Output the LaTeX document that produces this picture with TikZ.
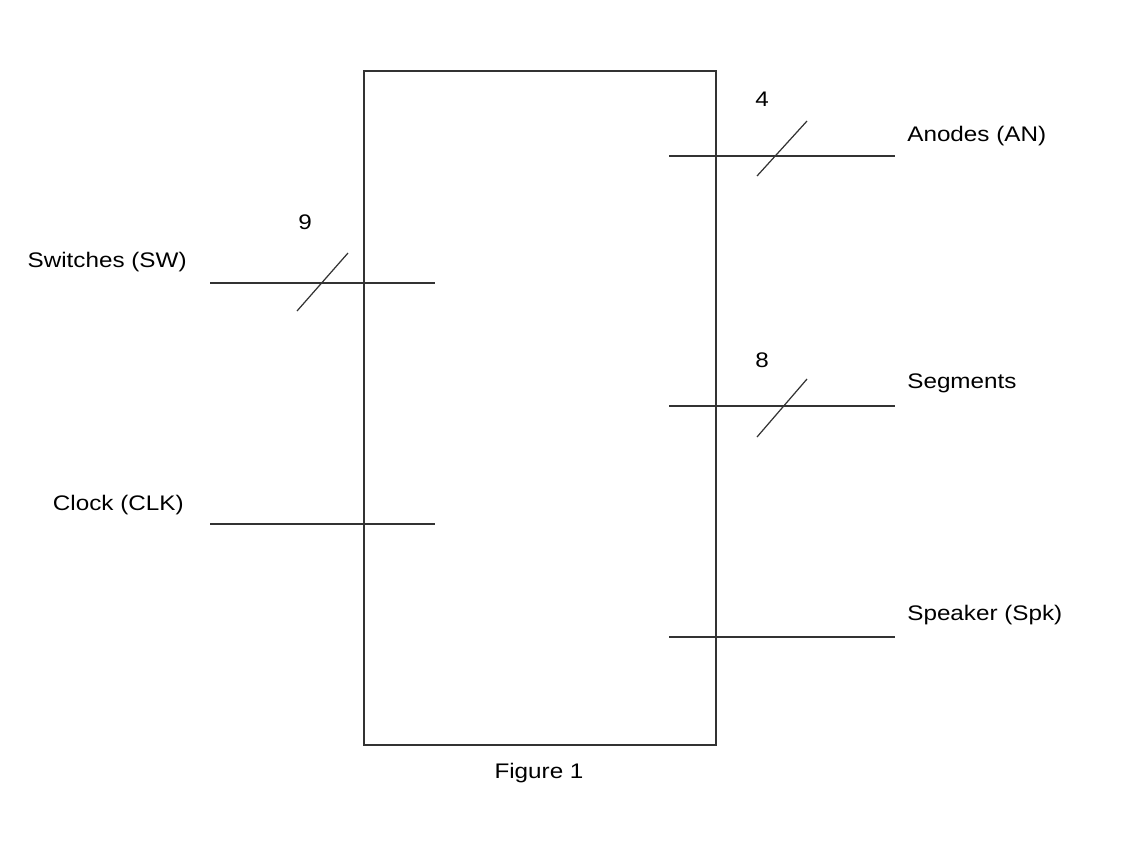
\documentclass[tikz,border=0pt]{standalone}
\usepackage{fontspec}
\setmainfont[FakeStretch=1.15]{Liberation Sans}
\usetikzlibrary{positioning}

\begin{document}
\begin{tikzpicture}[
    x=0.02cm, y=-0.02cm,
    every node/.style={font=\fontsize{12}{14}\selectfont, inner sep=0pt},
    wire/.style={line width=0.7pt, draw=black!80},
    bus/.style={line width=0.7pt, draw=black!80}
]

% Canvas
\useasboundingbox (0,0) rectangle (1125,866);

% Main block
\coordinate (boxtl) at (364,71);
\coordinate (boxbr) at (716,745);
\draw[wire] (boxtl) rectangle (boxbr);
\node (fig) at (539,773) {Figure 1};

% Inputs
\coordinate (sw_a) at (210,283);
\coordinate (sw_b) at (435,283);
\draw[wire] (sw_a) -- (sw_b);
\coordinate (sw_s1) at (297,311);
\coordinate (sw_s2) at (348,253);
\draw[bus] (sw_s1) -- (sw_s2);
\node (sw_n) at (305,222) {9};
\node[anchor=east] (sw_l) at (187,262) {Switches (SW)};

\coordinate (clk_a) at (210,524);
\coordinate (clk_b) at (435,524);
\draw[wire] (clk_a) -- (clk_b);
\node[anchor=east] (clk_l) at (184,505) {Clock (CLK)};

% Outputs
\coordinate (an_a) at (669,156);
\coordinate (an_b) at (895,156);
\draw[wire] (an_a) -- (an_b);
\coordinate (an_s1) at (757,176);
\coordinate (an_s2) at (807,121);
\draw[bus] (an_s1) -- (an_s2);
\node (an_n) at (762,99) {4};
\node[anchor=west] (an_l) at (907,136) {Anodes (AN)};

\coordinate (seg_a) at (669,406);
\coordinate (seg_b) at (895,406);
\draw[wire] (seg_a) -- (seg_b);
\coordinate (seg_s1) at (757,437);
\coordinate (seg_s2) at (807,379);
\draw[bus] (seg_s1) -- (seg_s2);
\node (seg_n) at (762,360) {8};
\node[anchor=west] (seg_l) at (907,383) {Segments};

\coordinate (spk_a) at (669,637);
\coordinate (spk_b) at (895,637);
\draw[wire] (spk_a) -- (spk_b);
\node[anchor=west] (spk_l) at (907,615) {Speaker (Spk)};

\end{tikzpicture}
\end{document}
